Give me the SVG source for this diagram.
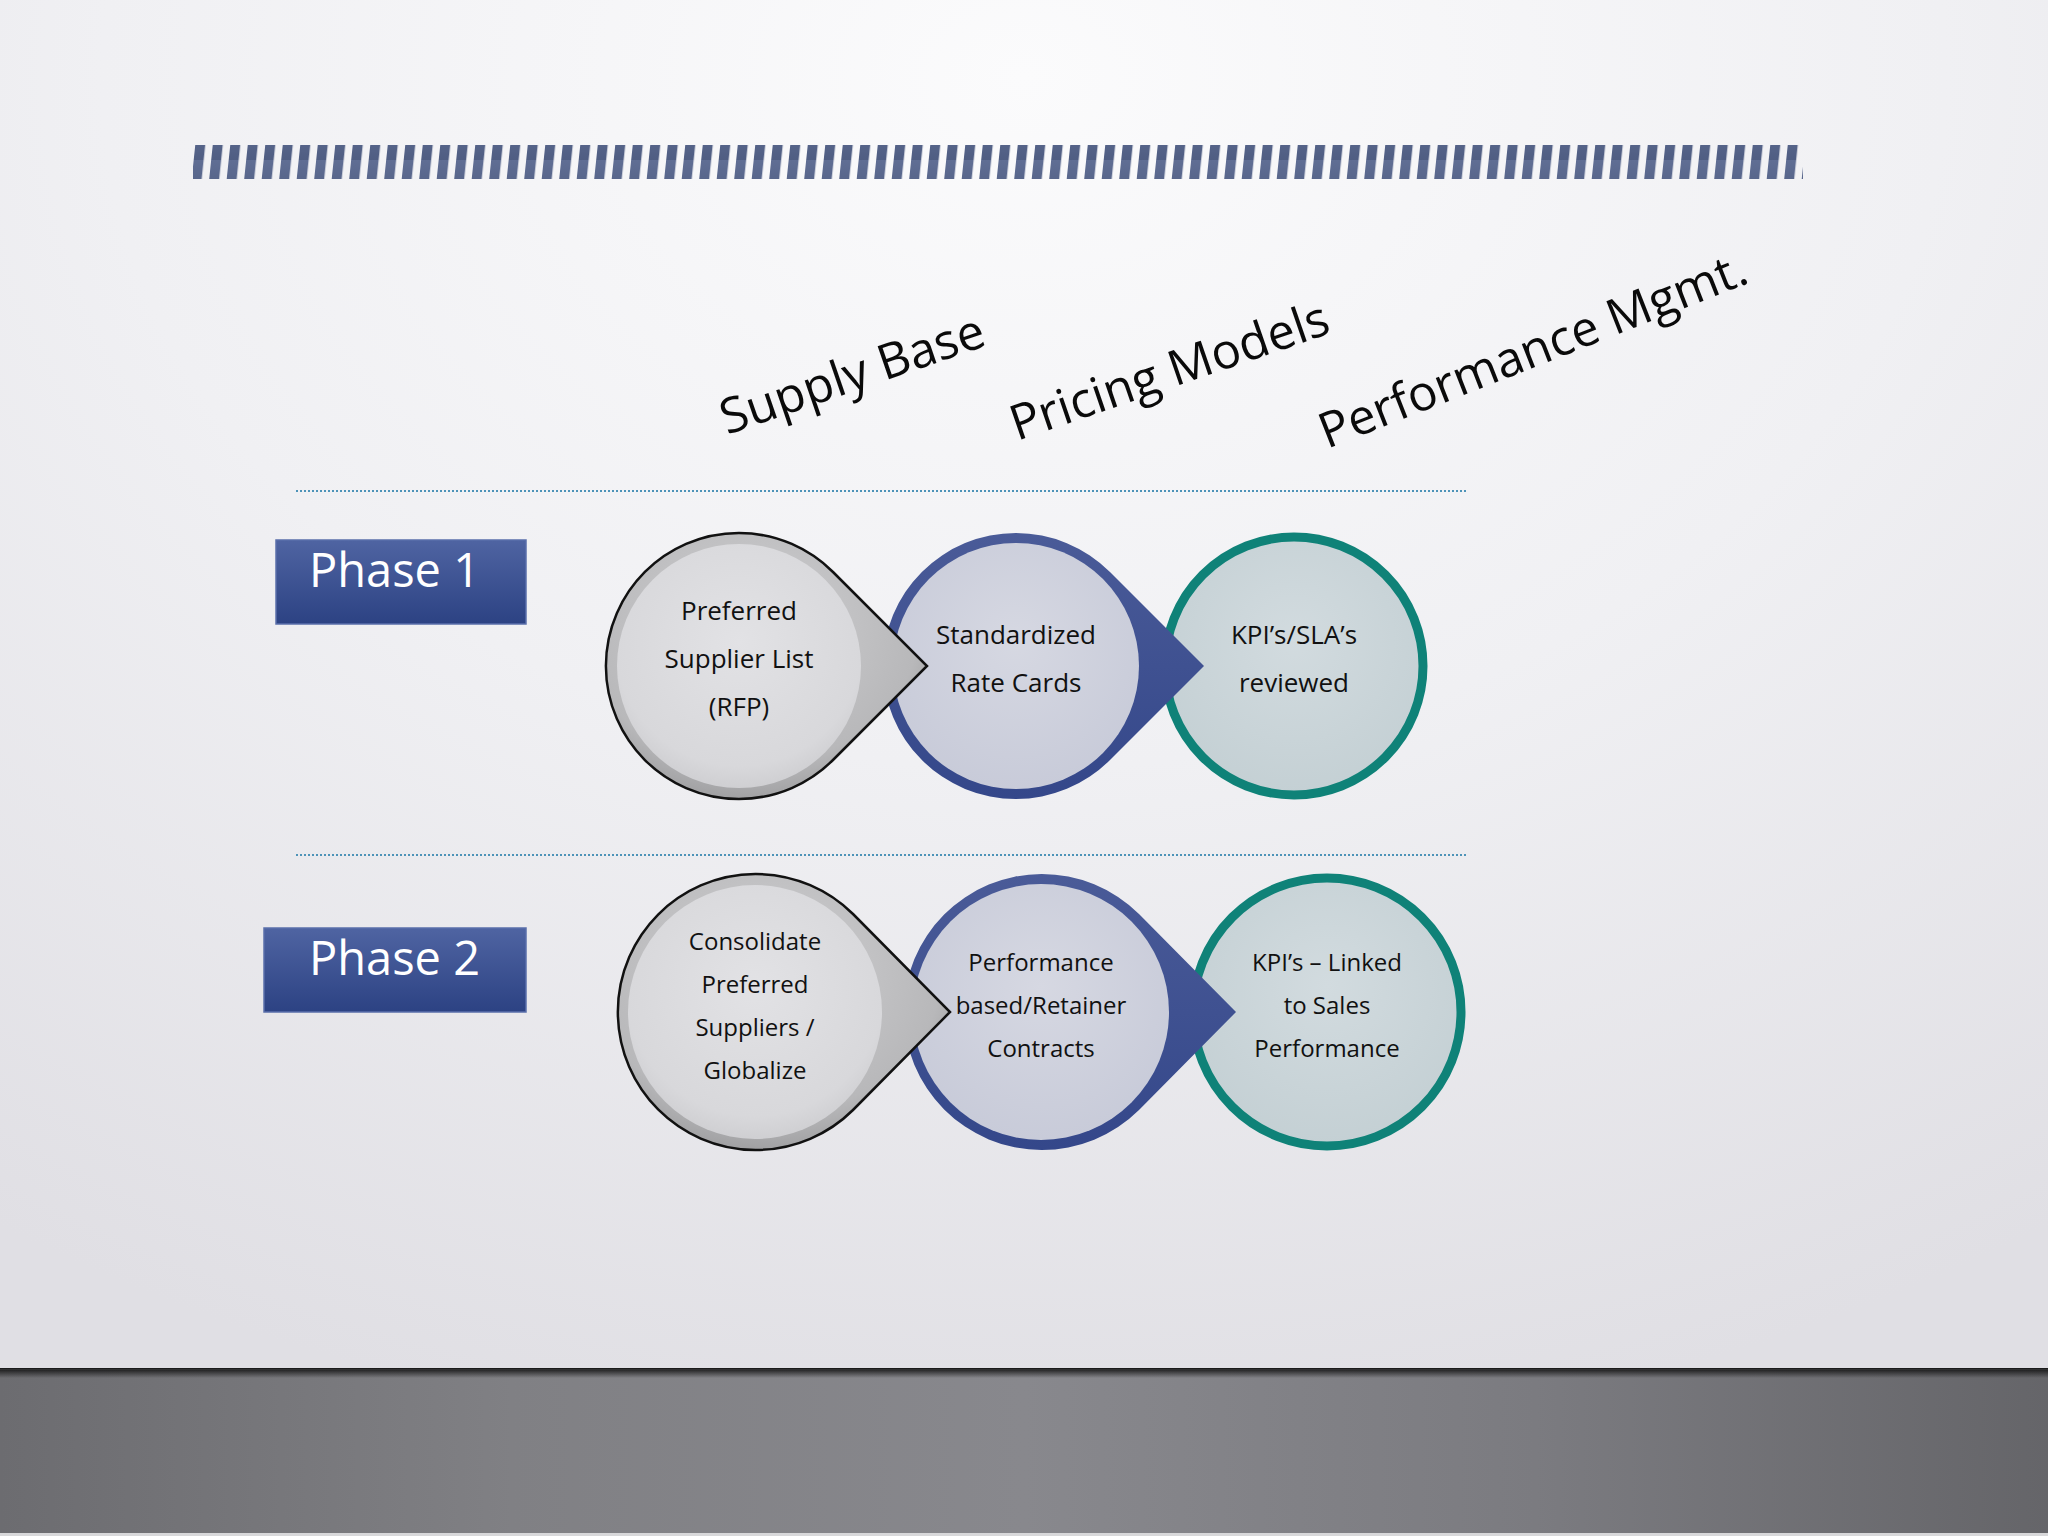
<svg xmlns="http://www.w3.org/2000/svg" width="2048" height="1536" viewBox="0 0 2048 1536">
<defs>
<style>
.hdr{font-family:"Open Sans","Noto Sans","DejaVu Sans",sans-serif;font-size:49px;fill:#0a0a0a}
.ph{font-family:"Open Sans","Noto Sans","DejaVu Sans",sans-serif;font-size:47px;fill:#ffffff}
.t1{font-family:"Open Sans","Noto Sans","DejaVu Sans",sans-serif;font-size:26px;fill:#111111;text-anchor:middle}
.t2{font-family:"Open Sans","Noto Sans","DejaVu Sans",sans-serif;font-size:24px;fill:#111111;text-anchor:middle}
.dots{stroke:#4d93b8;stroke-width:2;stroke-dasharray:2 2;fill:none}
.phbox{fill:url(#phg);stroke:#5a6fab;stroke-width:1.5}
.gray-outer{fill:url(#grayOuter);stroke:#111111;stroke-width:2.5}
.gray-inner{fill:url(#grayInner)}
.blue-outer{fill:url(#blueOuter)}
.blue-inner{fill:url(#blueInner)}
.teal{fill:url(#tealInner);stroke:#0f8278;stroke-width:9}
</style>
<radialGradient id="bg" cx="0.5" cy="0.05" r="0.9">
<stop offset="0" stop-color="#fbfbfc"/>
<stop offset="0.5" stop-color="#f0f0f3"/>
<stop offset="1" stop-color="#e0dfe4"/>
</radialGradient>
<linearGradient id="floor" x1="0" y1="0" x2="1" y2="0">
<stop offset="0" stop-color="#6c6c70"/>
<stop offset="0.25" stop-color="#808084"/>
<stop offset="0.5" stop-color="#88888d"/>
<stop offset="0.75" stop-color="#7b7b80"/>
<stop offset="1" stop-color="#656569"/>
</linearGradient>
<linearGradient id="floorEdge" x1="0" y1="0" x2="0" y2="1">
<stop offset="0" stop-color="#111111"/>
<stop offset="1" stop-color="#111111" stop-opacity="0"/>
</linearGradient>
<linearGradient id="stripeFill" x1="0" y1="0" x2="0" y2="1">
<stop offset="0" stop-color="#606e94"/>
<stop offset="1" stop-color="#4f5d82"/>
</linearGradient>
<pattern id="stripes" x="193" y="0" width="17.5" height="40" patternUnits="userSpaceOnUse" patternTransform="skewX(-6)">
<rect x="0" y="0" width="10" height="40" fill="url(#stripeFill)"/>
</pattern>
<linearGradient id="phg" x1="0" y1="0" x2="0" y2="1">
<stop offset="0" stop-color="#4f64a2"/>
<stop offset="1" stop-color="#2c4283"/>
</linearGradient>
<radialGradient id="grayOuter" cx="0.45" cy="0.35" r="0.75">
<stop offset="0" stop-color="#d0d0d2"/>
<stop offset="0.7" stop-color="#b8b8ba"/>
<stop offset="1" stop-color="#8e8e90"/>
</radialGradient>
<radialGradient id="grayInner" cx="0.5" cy="0.4" r="0.6">
<stop offset="0" stop-color="#e2e2e5"/>
<stop offset="0.85" stop-color="#d8d8db"/>
<stop offset="1" stop-color="#cfcfd2"/>
</radialGradient>
<linearGradient id="blueOuter" x1="0" y1="0" x2="0" y2="1">
<stop offset="0" stop-color="#4a5b98"/>
<stop offset="1" stop-color="#34478a"/>
</linearGradient>
<radialGradient id="blueInner" cx="0.5" cy="0.4" r="0.6">
<stop offset="0" stop-color="#d6d8e2"/>
<stop offset="1" stop-color="#c8cbd9"/>
</radialGradient>
<radialGradient id="tealInner" cx="0.5" cy="0.4" r="0.6">
<stop offset="0" stop-color="#d2dbdf"/>
<stop offset="1" stop-color="#c4d0d4"/>
</radialGradient>
</defs>

<rect x="0" y="0" width="2048" height="1536" fill="url(#bg)"/>
<g id="floor-area">
<rect x="0" y="1370" width="2048" height="166" fill="url(#floor)"/>
<rect x="0" y="1368" width="2048" height="10" fill="url(#floorEdge)"/>
<rect x="0" y="1533" width="2048" height="3" fill="#d8d8da"/>
</g>

<g id="title-bar">
<rect x="193" y="145" width="1610" height="34" fill="url(#stripes)"/>
</g>

<g id="column-headers">
<text class="hdr" x="727" y="435" transform="rotate(-19 727 435)">Supply Base</text>
<text class="hdr" x="1017" y="441" transform="rotate(-19 1017 441)">Pricing Models</text>
<text class="hdr" x="1327" y="449" transform="rotate(-21.5 1327 449)">Performance Mgmt.</text>
</g>

<g id="dividers">
<line class="dots" x1="296" y1="491" x2="1466" y2="491"/>
<line class="dots" x1="296" y1="855" x2="1466" y2="855"/>
</g>

<g id="phase1-label">
<rect class="phbox" x="276" y="540" width="250" height="84"/>
<text class="ph" x="309" y="587">Phase 1</text>
</g>
<g id="phase2-label">
<rect class="phbox" x="264" y="928" width="262" height="84"/>
<text class="ph" x="309" y="975">Phase 2</text>
</g>

<g id="connectors"></g>

<g id="kpi-sla">
<circle class="teal" cx="1294" cy="666" r="129"/>
<text class="t1" x="1294" y="644">KPI’s/SLA’s</text>
<text class="t1" x="1294" y="692">reviewed</text>
</g>
<g id="rate-cards">
<path class="blue-outer" d="M1110,572 L1204,666 L1110,760 A133,133 0 1 1 1110,572 Z"/>
<circle class="blue-inner" cx="1016" cy="666" r="123"/>
<text class="t1" x="1016" y="644">Standardized</text>
<text class="t1" x="1016" y="692">Rate Cards</text>
</g>
<g id="preferred-supplier-list">
<path class="gray-outer" d="M833,572 L927,666 L833,760 A133,133 0 1 1 833,572 Z"/>
<circle class="gray-inner" cx="739" cy="666" r="122"/>
<text class="t1" x="739" y="620">Preferred</text>
<text class="t1" x="739" y="668">Supplier List</text>
<text class="t1" x="739" y="716">(RFP)</text>
</g>

<g id="kpi-linked">
<circle class="teal" cx="1327" cy="1012" r="134"/>
<text class="t2" x="1327" y="971">KPI’s – Linked</text>
<text class="t2" x="1327" y="1014">to Sales</text>
<text class="t2" x="1327" y="1057">Performance</text>
</g>
<g id="performance-contracts">
<path class="blue-outer" d="M1139,914 L1236,1012 L1139,1110 A138,138 0 1 1 1139,914 Z"/>
<circle class="blue-inner" cx="1041" cy="1012" r="128"/>
<text class="t2" x="1041" y="971">Performance</text>
<text class="t2" x="1041" y="1014">based/Retainer</text>
<text class="t2" x="1041" y="1057">Contracts</text>
</g>
<g id="consolidate-suppliers">
<path class="gray-outer" d="M853,914 L950,1012 L853,1110 A138,138 0 1 1 853,914 Z"/>
<circle class="gray-inner" cx="755" cy="1012" r="127"/>
<text class="t2" x="755" y="950">Consolidate</text>
<text class="t2" x="755" y="993">Preferred</text>
<text class="t2" x="755" y="1036">Suppliers /</text>
<text class="t2" x="755" y="1079">Globalize</text>
</g>
</svg>
